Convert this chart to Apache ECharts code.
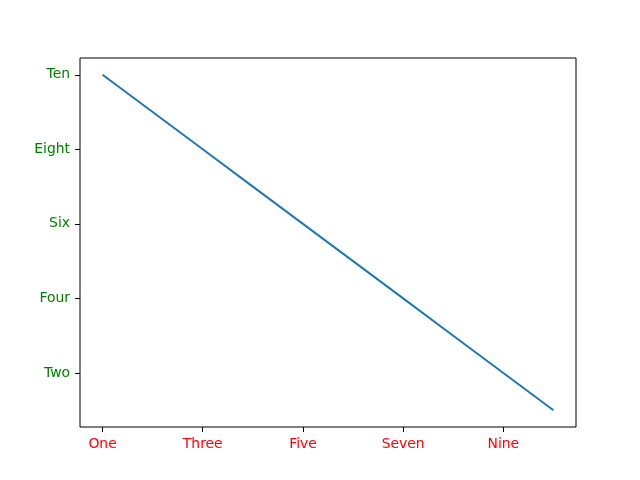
<!DOCTYPE html>
<html>
<head>
<meta charset="utf-8">
<script src="https://cdn.jsdelivr.net/npm/echarts@6/dist/echarts.min.js"></script>
<style>
  html, body { margin: 0; padding: 0; background: #fff; }
  #main { width: 640px; height: 480px; }
</style>
</head>
<body>
<div id="main"></div>
<script>
// data
var xValues = [1, 2, 3, 4, 5, 6, 7, 8, 9, 10];
var yValues = [10, 9, 8, 7, 6, 5, 4, 3, 2, 1];
// tick positions and labels
var xTicks = [1, 3, 5, 7, 9];
var xTickLabels = ['One', 'Three', 'Five', 'Seven', 'Nine'];
var yTicks = [2, 4, 6, 8, 10];
var yTickLabels = ['Two', 'Four', 'Six', 'Eight', 'Ten'];

var points = xValues.map(function (x, i) { return [x, yValues[i]]; });

var myChart = echarts.init(document.getElementById('main'));
var option = {
  animation: false,
  grid: {
    left: 80, right: 64, top: 58, bottom: 53,
    show: true, borderColor: '#000', borderWidth: 1, backgroundColor: 'transparent'
  },
  xAxis: {
    type: 'value',
    min: 0.55,
    max: 10.45,
    splitLine: { show: false },
    axisLine: { show: false },
    axisTick: { show: true, customValues: xTicks, length: 5, inside: false, lineStyle: { color: '#000', width: 1 } },
    axisLabel: {
      customValues: xTicks,
      color: 'red',
      fontFamily: 'DejaVu Sans',
      fontSize: 13.9,
      margin: 10,
      formatter: function (v) { return xTickLabels[xTicks.indexOf(Math.round(v))]; }
    }
  },
  yAxis: {
    type: 'value',
    min: 0.55,
    max: 10.45,
    splitLine: { show: false },
    axisLine: { show: false },
    axisTick: { show: true, customValues: yTicks, length: 5, inside: false, lineStyle: { color: '#000', width: 1 } },
    axisLabel: {
      customValues: yTicks,
      color: 'green',
      fontFamily: 'DejaVu Sans',
      fontSize: 13.9,
      margin: 10,
      padding: [3, 0, 0, 0],
      formatter: function (v) { return yTickLabels[yTicks.indexOf(Math.round(v))]; }
    }
  },
  series: [{
    type: 'line',
    data: points,
    showSymbol: false,
    lineStyle: { color: '#1f77b4', width: 2 },
    itemStyle: { color: '#1f77b4' }
  }]
};
myChart.setOption(option);
</script>
</body>
</html>
